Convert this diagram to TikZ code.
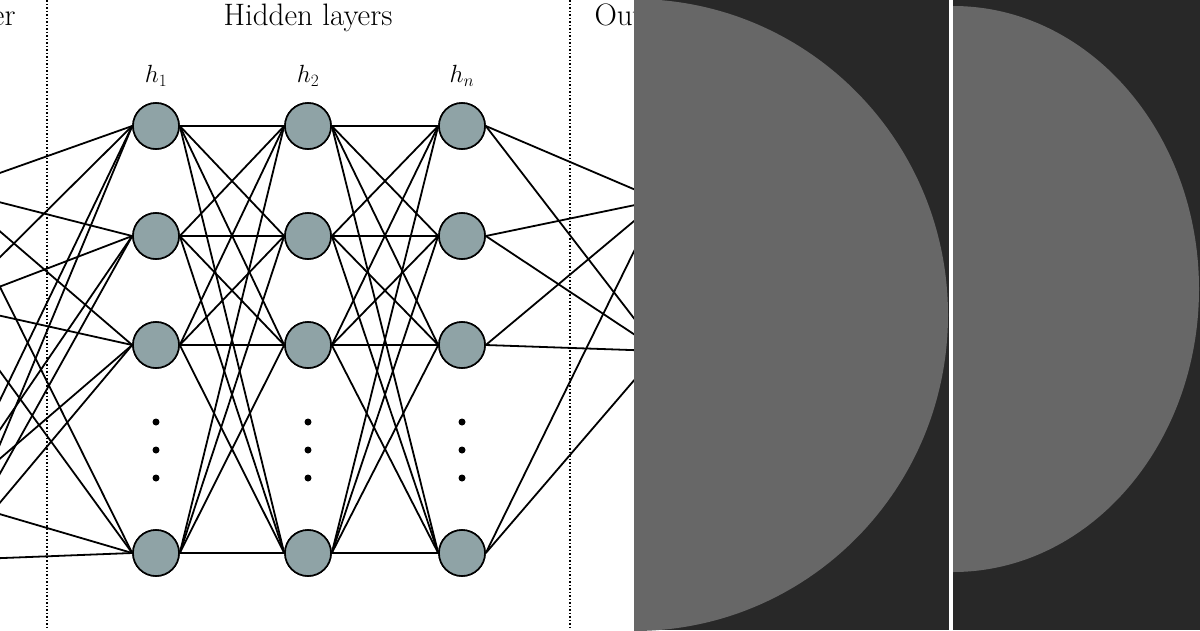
\documentclass[tikz,border=0pt]{standalone}
\definecolor{nodefill}{HTML}{8FA3A6}
\definecolor{panelbg}{HTML}{282828}
\definecolor{panelfg}{HTML}{676767}
\begin{document}
\begin{tikzpicture}[x=1pt,y=-1pt,
  neuron/.style={circle,draw=black,line width=1.6pt,fill=nodefill,minimum size=46pt,inner sep=0pt},
  conn/.style={line width=1.8pt,black},
  sep/.style={line width=1.5pt,dotted,black},
  title/.style={font=\fontsize{31}{36}\selectfont},
  hlab/.style={font=\fontsize{26}{30}\selectfont},
  vdot/.style={circle,fill=black,inner sep=0pt,minimum size=7pt}]
\useasboundingbox (0,0) rectangle (1200,630);
\clip (0,0) rectangle (1200,630);
\fill[white] (0,0) rectangle (1200,630);
% input layer (off-picture)
\foreach \i/\y in {1/190,2/305,3/500,4/560} \node[neuron] (i\i) at (-72,\y) {};
% output layer (hidden behind panel)
\node[neuron] (o1) at (683,200) {};
\node[neuron] (o2) at (683,351) {};
% hidden layers
\foreach \c/\x in {1/156,2/308,3/462}{
  \foreach \r/\y in {1/126,2/236,3/345,4/553} \node[neuron] (h\c\r) at (\x,\y) {};
  \foreach \k/\y in {1/422,2/450,3/478} \node[vdot] (d\c\k) at (\x,\y) {};
}
% connections
\foreach \i in {1,...,4} \foreach \r in {1,...,4} \draw[conn] (i\i.east) -- (h1\r.west);
\foreach \a in {1,...,4} \foreach \b in {1,...,4} {
  \draw[conn] (h1\a.east) -- (h2\b.west);
  \draw[conn] (h2\a.east) -- (h3\b.west);
}
\foreach \a in {1,...,4} \foreach \o in {1,2} \draw[conn] (h3\a.east) -- (o\o.west);
% redraw nodes on top
\foreach \c/\x in {1/156,2/308,3/462}{
  \foreach \r/\y in {1/126,2/236,3/345,4/553} \node[neuron] at (\x,\y) {};
}
% separators
\coordinate (s1t) at (47,0); \coordinate (s1b) at (47,630);
\coordinate (s2t) at (570,0); \coordinate (s2b) at (570,630);
\draw[sep] (s1t) -- (s1b);
\draw[sep] (s2t) -- (s2b);
% titles
\node[title,anchor=base east] (tin) at (19,25) {Input layer};
\node[title,anchor=base] (thid) at (308,25) {Hidden layers};
\node[title,anchor=base west] (tout) at (591,25) {Output layer};
\node[hlab] (l1) at (156,76) {$h_{1}$};
\node[hlab] (l2) at (308,76) {$h_{2}$};
\node[hlab] (l3) at (462,76) {$h_{n}$};
% right panels
\fill[panelbg] (634,0) rectangle (949,630);
\begin{scope}
\clip (634,0) rectangle (949,630);
\fill[panelfg] (634,315) ellipse [x radius=314, y radius=316];
\end{scope}
\fill[panelbg] (953,0) rectangle (1200,630);
\begin{scope}
\clip (953,0) rectangle (1200,630);
\fill[panelfg] (953,289) ellipse [x radius=246, y radius=283];
\end{scope}
\end{tikzpicture}
\end{document}
